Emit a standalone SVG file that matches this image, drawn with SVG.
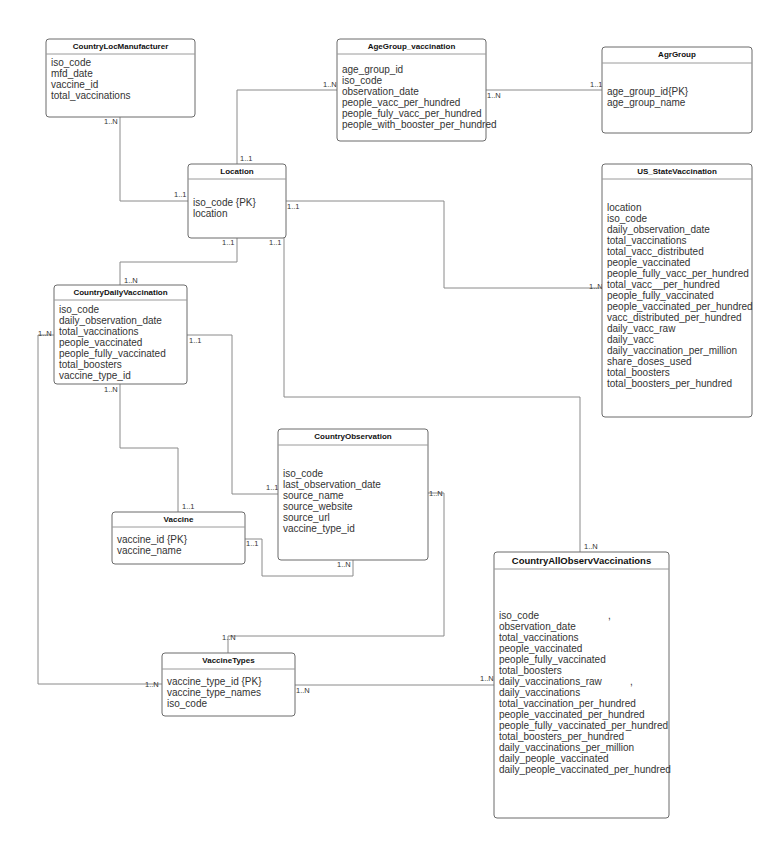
<svg xmlns="http://www.w3.org/2000/svg" width="763" height="857" viewBox="0 0 763 857">
<style>
.box{fill:#fff;stroke:#6b6b6b;stroke-width:1}
.hl{stroke:#9a9a9a;stroke-width:1}
.t{font-family:"Liberation Sans",Arial,sans-serif;font-size:8px;font-weight:bold;fill:#111;text-anchor:middle}
.a{font-family:"Liberation Sans",Arial,sans-serif;font-size:10px;fill:#333}
.l{font-family:"Liberation Sans",Arial,sans-serif;font-size:7.5px;fill:#333}
.c{fill:none;stroke:#8a8a8a;stroke-width:1}
</style>
<g id="connectors">
<path class="c" d="M120,117V201H188"/>
<path class="c" d="M237,164V90H337"/>
<path class="c" d="M486,90H602"/>
<path class="c" d="M286,201H444V288H602"/>
<path class="c" d="M237,238V262H120V285"/>
<path class="c" d="M284,238V397H580V552"/>
<path class="c" d="M120,384V448H178V512"/>
<path class="c" d="M187,335H232V494H278"/>
<path class="c" d="M245,539H262V576H353V560"/>
<path class="c" d="M428,493H444V636H228V653"/>
<path class="c" d="M54,335H38V684H162"/>
<path class="c" d="M295,685H494"/>
<text class="l" x="104" y="124">1..N</text><text class="l" x="174" y="197">1..1</text>
<text class="l" x="240" y="161">1..1</text><text class="l" x="323" y="87">1..N</text>
<text class="l" x="487" y="98">1..N</text><text class="l" x="590" y="87">1..1</text>
<text class="l" x="287" y="209">1..1</text><text class="l" x="589" y="289">1..N</text>
<text class="l" x="222" y="245">1..1</text><text class="l" x="124" y="283">1..N</text>
<text class="l" x="269" y="245">1..1</text><text class="l" x="584" y="549">1..N</text>
<text class="l" x="104" y="392">1..N</text><text class="l" x="182" y="509">1..1</text>
<text class="l" x="189" y="343">1..1</text><text class="l" x="266" y="490">1..1</text>
<text class="l" x="246" y="546">1..1</text><text class="l" x="337" y="567">1..N</text>
<text class="l" x="429" y="496">1..N</text><text class="l" x="222" y="640">1..N</text>
<text class="l" x="38" y="336">1..N</text><text class="l" x="145" y="687">1..N</text>
<text class="l" x="296" y="693">1..N</text><text class="l" x="480" y="681">1..N</text>
</g>
<g id="CountryLocManufacturer">
<rect class="box" x="46" y="39" width="149" height="78" rx="3"/><line class="hl" x1="46" y1="54" x2="195" y2="54"/>
<text class="t" x="120.5" y="49">CountryLocManufacturer</text>
<text class="a" x="51" y="66">iso_code</text><text class="a" x="51" y="77">mfd_date</text><text class="a" x="51" y="88">vaccine_id</text><text class="a" x="51" y="99">total_vaccinations</text>
</g>
<g id="AgeGroup_vaccination">
<rect class="box" x="337" y="39" width="149" height="102" rx="3"/><line class="hl" x1="337" y1="54" x2="486" y2="54"/>
<text class="t" x="411.5" y="49">AgeGroup_vaccination</text>
<text class="a" x="342" y="73">age_group_id</text><text class="a" x="342" y="84">iso_code</text><text class="a" x="342" y="95">observation_date</text><text class="a" x="342" y="106">people_vacc_per_hundred</text><text class="a" x="342" y="117">people_fuly_vacc_per_hundred</text><text class="a" x="342" y="128">people_with_booster_per_hundred</text>
</g>
<g id="AgrGroup">
<rect class="box" x="602" y="47" width="150" height="86" rx="3"/><line class="hl" x1="602" y1="63" x2="752" y2="63"/>
<text class="t" x="677" y="57">AgrGroup</text>
<text class="a" x="607" y="95">age_group_id{PK}</text><text class="a" x="607" y="106">age_group_name</text>
</g>
<g id="Location">
<rect class="box" x="188" y="164" width="98" height="74" rx="3"/><line class="hl" x1="188" y1="179" x2="286" y2="179"/>
<text class="t" x="237" y="174">Location</text>
<text class="a" x="193" y="206">iso_code {PK}</text><text class="a" x="193" y="217">location</text>
</g>
<g id="US_StateVaccination">
<rect class="box" x="602" y="164" width="150" height="253" rx="3"/><line class="hl" x1="602" y1="179" x2="752" y2="179"/>
<text class="t" x="677" y="174">US_StateVaccination</text>
<text class="a" x="607" y="211">location</text><text class="a" x="607" y="222">iso_code</text><text class="a" x="607" y="233">daily_observation_date</text><text class="a" x="607" y="244">total_vaccinations</text><text class="a" x="607" y="255">total_vacc_distributed</text><text class="a" x="607" y="266">people_vaccinated</text><text class="a" x="607" y="277">people_fully_vacc_per_hundred</text><text class="a" x="607" y="288">total_vacc__per_hundred</text><text class="a" x="607" y="299">people_fully_vaccinated</text><text class="a" x="607" y="310">people_vaccinated_per_hundred</text><text class="a" x="607" y="321">vacc_distributed_per_hundred</text><text class="a" x="607" y="332">daily_vacc_raw</text><text class="a" x="607" y="343">daily_vacc</text><text class="a" x="607" y="354">daily_vaccination_per_million</text><text class="a" x="607" y="365">share_doses_used</text><text class="a" x="607" y="376">total_boosters</text><text class="a" x="607" y="387">total_boosters_per_hundred</text>
</g>
<g id="CountryDailyVaccination">
<rect class="box" x="54" y="285" width="133" height="99" rx="3"/><line class="hl" x1="54" y1="300" x2="187" y2="300"/>
<text class="t" x="120.5" y="295">CountryDailyVaccination</text>
<text class="a" x="59" y="313">iso_code</text><text class="a" x="59" y="324">daily_observation_date</text><text class="a" x="59" y="335">total_vaccinations</text><text class="a" x="59" y="346">people_vaccinated</text><text class="a" x="59" y="357">people_fully_vaccinated</text><text class="a" x="59" y="368">total_boosters</text><text class="a" x="59" y="379">vaccine_type_id</text>
</g>
<g id="CountryObservation">
<rect class="box" x="278" y="429" width="150" height="131" rx="3"/><line class="hl" x1="278" y1="445" x2="428" y2="445"/>
<text class="t" x="353" y="439">CountryObservation</text>
<text class="a" x="283" y="477">iso_code</text><text class="a" x="283" y="488">last_observation_date</text><text class="a" x="283" y="499">source_name</text><text class="a" x="283" y="510">source_website</text><text class="a" x="283" y="521">source_url</text><text class="a" x="283" y="532">vaccine_type_id</text>
</g>
<g id="Vaccine">
<rect class="box" x="112" y="512" width="133" height="52" rx="3"/><line class="hl" x1="112" y1="527" x2="245" y2="527"/>
<text class="t" x="178.5" y="522">Vaccine</text>
<text class="a" x="117" y="543">vaccine_id {PK}</text><text class="a" x="117" y="554">vaccine_name</text>
</g>
<g id="VaccineTypes">
<rect class="box" x="162" y="653" width="133" height="63" rx="3"/><line class="hl" x1="162" y1="669" x2="295" y2="669"/>
<text class="t" x="228.5" y="663">VaccineTypes</text>
<text class="a" x="167" y="685">vaccine_type_id {PK}</text><text class="a" x="167" y="696">vaccine_type_names</text><text class="a" x="167" y="707">iso_code</text>
</g>
<g id="CountryAllObservVaccinations">
<rect class="box" x="494" y="552" width="175" height="266" rx="3"/><line class="hl" x1="494" y1="569" x2="669" y2="569"/>
<text class="t" x="581.5" y="564" style="font-size:9.5px">CountryAllObservVaccinations</text>
<text class="a" x="499" y="619">iso_code</text><text class="a" x="608" y="619">,</text>
<text class="a" x="499" y="630">observation_date</text><text class="a" x="499" y="641">total_vaccinations</text><text class="a" x="499" y="652">people_vaccinated</text><text class="a" x="499" y="663">people_fully_vaccinated</text><text class="a" x="499" y="674">total_boosters</text><text class="a" x="499" y="685">daily_vaccinations_raw</text><text class="a" x="630" y="685">,</text><text class="a" x="499" y="696">daily_vaccinations</text><text class="a" x="499" y="707">total_vaccination_per_hundred</text><text class="a" x="499" y="718">people_vaccinated_per_hundred</text><text class="a" x="499" y="729">people_fully_vaccinated_per_hundred</text><text class="a" x="499" y="740">total_boosters_per_hundred</text><text class="a" x="499" y="751">daily_vaccinations_per_million</text><text class="a" x="499" y="762">daily_people_vaccinated</text><text class="a" x="499" y="773">daily_people_vaccinated_per_hundred</text>
</g>
</svg>
